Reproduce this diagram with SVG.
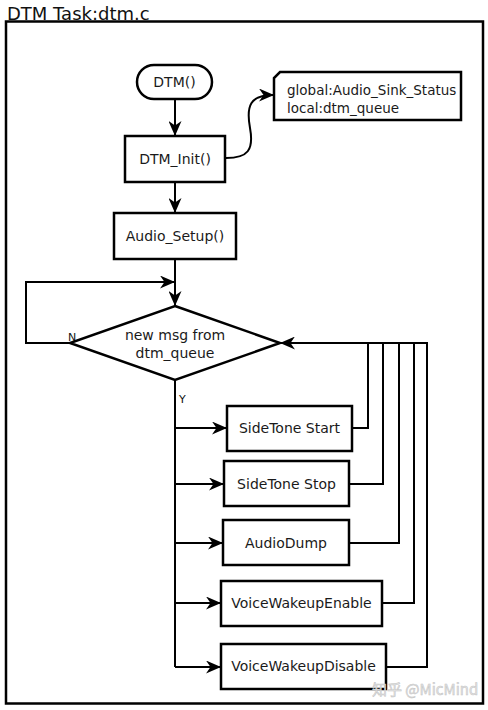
<svg xmlns="http://www.w3.org/2000/svg" width="488" height="710" viewBox="0 0 488 710">
<defs>
<marker id="ah" viewBox="0 0 15 13" refX="14" refY="6.5" markerWidth="15" markerHeight="13" markerUnits="userSpaceOnUse" orient="auto">
<path d="M0,0 L15,6.5 L0,13 L4.5,6.5 Z" fill="#000"/>
</marker>
</defs>
<style>
.box{fill:#fff;stroke:#000;stroke-width:2.5}
.t{font-family:"DejaVu Sans",Verdana,sans-serif;font-size:14px;fill:#1a1a1a;text-anchor:middle}
.c{fill:none;stroke:#000;stroke-width:2}
.s{font-family:"DejaVu Sans",Verdana,sans-serif;font-size:11px;fill:#111}
</style>
<rect width="488" height="710" fill="#fff"/>
<text x="7" y="20" font-family="DejaVu Sans, Verdana, sans-serif" font-size="18" fill="#111">DTM Task:dtm.c</text>
<rect x="6" y="21.5" width="477" height="682" fill="none" stroke="#000" stroke-width="2.5"/>

<g id="connectors">
<path class="c" d="M175,99 V135" marker-end="url(#ah)"/>
<path class="c" d="M175,182 V212" marker-end="url(#ah)"/>
<path class="c" d="M175,259 V305" marker-end="url(#ah)"/>
<path class="c" d="M226,158 C248,158 254,150 250,128 C246,106 250,95 273,95" marker-end="url(#ah)"/>
<path class="c" d="M70,343 H26 V282 H174" marker-end="url(#ah)"/>
<path class="c" d="M175,380 V667"/>
<path class="c" d="M175,428 H226" marker-end="url(#ah)"/>
<path class="c" d="M175,484 H223" marker-end="url(#ah)"/>
<path class="c" d="M175,543 H222" marker-end="url(#ah)"/>
<path class="c" d="M175,603 H220" marker-end="url(#ah)"/>
<path class="c" d="M175,667 H220" marker-end="url(#ah)"/>
<path class="c" d="M352,428 H368 V343"/>
<path class="c" d="M349,484 H383 V343"/>
<path class="c" d="M349,543 H399 V343"/>
<path class="c" d="M382,603 H414 V343"/>
<path class="c" d="M386,667 H427 V343 H281" marker-end="url(#ah)"/>
<text class="s" x="68" y="341">N</text>
<text class="s" x="179" y="403">Y</text>
</g>

<g id="n-dtm">
<rect class="box" x="137" y="65" width="75" height="34" rx="17"/>
<text class="t" x="174.5" y="87">DTM()</text>
</g>
<g id="n-init">
<rect class="box" x="125" y="136" width="100" height="46"/>
<text class="t" x="175" y="164">DTM_Init()</text>
</g>
<g id="n-note">
<path class="box" d="M280,72 H461 V120 H274 V78 Z"/>
<text class="t" x="287" y="95" style="text-anchor:start;font-size:13.5px">global:Audio_Sink_Status</text>
<text class="t" x="287" y="113" style="text-anchor:start;font-size:13.5px">local:dtm_queue</text>
</g>
<g id="n-setup">
<rect class="box" x="114" y="213" width="122" height="46"/>
<text class="t" x="175" y="241">Audio_Setup()</text>
</g>
<g id="n-decision">
<path class="box" d="M175,306 L280,343 L175,380 L70,343 Z"/>
<text class="t" x="175" y="340">new msg from</text>
<text class="t" x="175" y="358">dtm_queue</text>
</g>
<g id="n-ststart">
<rect class="box" x="227" y="406" width="125" height="45"/>
<text class="t" x="289.5" y="433">SideTone Start</text>
</g>
<g id="n-ststop">
<rect class="box" x="224" y="461" width="125" height="45"/>
<text class="t" x="286.5" y="489">SideTone Stop</text>
</g>
<g id="n-dump">
<rect class="box" x="223" y="520" width="126" height="45"/>
<text class="t" x="286" y="548">AudioDump</text>
</g>
<g id="n-vwe">
<rect class="box" x="221" y="581" width="161" height="45"/>
<text class="t" x="301.5" y="608">VoiceWakeupEnable</text>
</g>
<g id="n-vwd">
<rect class="box" x="221" y="644" width="165" height="45"/>
<text class="t" x="303.5" y="671">VoiceWakeupDisable</text>
</g>
<text x="372" y="695" font-family="Noto Sans CJK SC, DejaVu Sans, sans-serif" font-size="15" fill="#e4e4e4" stroke="#c4c4c4" stroke-width="0.5">知乎 @MicMind</text>
</svg>
